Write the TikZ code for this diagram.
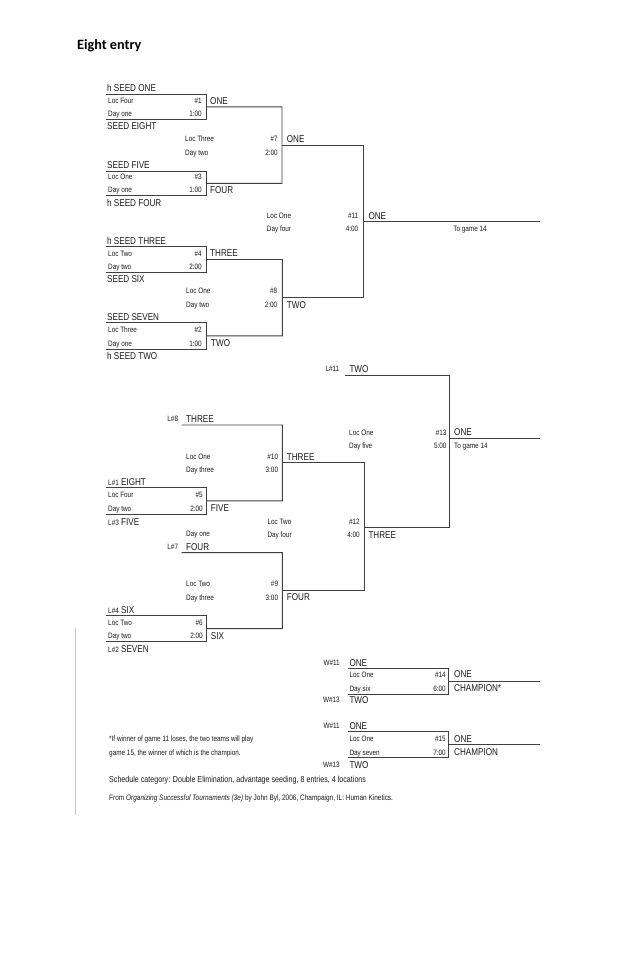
\documentclass[tikz,border=0pt]{standalone}
\usepackage{fontspec}
\setmainfont{Liberation Sans}
\newfontfamily\narrowf[FakeStretch=0.82]{Liberation Sans}
\newfontfamily\titlef{Carlito}
\usetikzlibrary{calc}
\definecolor{ink}{HTML}{1A1A1A}
\definecolor{rulec}{HTML}{404040}
\newcommand\fbig{\narrowf\fontsize{9.9}{10}\selectfont}
\newcommand\fsmall{\narrowf\fontsize{7.8}{8}\selectfont}
\newcommand\fnote{\narrowf\fontsize{7.8}{8}\selectfont}
\newcommand\fcat{\narrowf\fontsize{8.7}{9}\selectfont}
\newcommand\ffrom{\narrowf\fontsize{7.9}{8}\selectfont}
\newcommand\ftitle{\titlef\bfseries\fontsize{14.2}{15}\selectfont}
\tikzset{
  big/.style={font=\fbig, text=ink, anchor=west, inner sep=0pt, text height=7.1pt, text depth=0pt},
  small/.style={font=\fsmall, text=ink, anchor=west, inner sep=0pt, text height=5.6pt, text depth=0pt},
  smallr/.style={small, anchor=east},
  smallc/.style={small, anchor=center},
  note/.style={font=\fnote, text=ink, anchor=west, inner sep=0pt, text height=5.6pt, text depth=0pt},
  bline/.style={draw=rulec, line width=0.95pt},
}
\newcommand\gamebox[5]{%
  \coordinate (#1tl) at (#2,#4);
  \coordinate (#1tr) at (#3,#4);
  \coordinate (#1bl) at (#2,#5);
  \coordinate (#1br) at (#3,#5);
  \coordinate (#1o) at ($(#1tr)!0.5!(#1br)$);
  \draw[bline] (#1tl) -- (#1tr) -- (#1br) -- (#1bl);
}
\begin{document}
\begin{tikzpicture}[x=1pt,y=-1pt]
\fill[white] (0,0) rectangle (638,976);
\useasboundingbox (0,0) rectangle (638,976);

\node[font=\ftitle, text=black, anchor=west, inner sep=0pt] (title) at (77,46) {Eight entry};

% ---------- first round boxes ----------
\gamebox{g1}{106}{206}{94.3}{119.3}
\gamebox{g3}{106}{206}{171}{195.7}
\gamebox{g4}{106}{206}{246.7}{272.3}
\gamebox{g2}{106}{206}{322.7}{349}
\gamebox{g5}{106}{206}{487.7}{514}
\gamebox{g6}{106}{206}{615.7}{641.7}
\gamebox{g14}{348.3}{448.3}{668.3}{694}
\gamebox{g15}{348.3}{448.3}{731.7}{757.3}

% ---------- winners bracket ----------
\coordinate (j7a) at (282,106.8);
\coordinate (j7b) at (282,183.35);
\coordinate (j7o) at (282,145.1);
\draw[bline] (g1o) -- (j7a) -- (j7b) -- (g3o);
\coordinate (j8a) at (282.3,259.5);
\coordinate (j8b) at (282.3,335.85);
\coordinate (j8o) at (282.3,297.7);
\draw[bline] (g4o) -- (j8a) -- (j8b) -- (g2o);
\coordinate (j11a) at (363.3,145.1);
\coordinate (j11b) at (363.3,297.7);
\coordinate (j11o) at (363.3,221.4);
\coordinate (end11) at (540,221.4);
\draw[bline] (j7o) -- (j11a) -- (j11b) -- (j8o);
\draw[bline] (j11o) -- (end11);

% ---------- losers bracket ----------
\coordinate (l8s) at (181.7,425);
\coordinate (j10a) at (282.3,425);
\coordinate (j10b) at (282.3,500.85);
\coordinate (j10o) at (282.3,462.9);
\draw[bline] (l8s) -- (j10a) -- (j10b) -- (g5o);
\coordinate (l7s) at (181.7,552.7);
\coordinate (j9a) at (282.3,552.7);
\coordinate (j9b) at (282.3,628.7);
\coordinate (j9o) at (282.3,590.7);
\draw[bline] (l7s) -- (j9a) -- (j9b) -- (g6o);
\coordinate (j12a) at (364,462.9);
\coordinate (j12b) at (364,590.7);
\coordinate (j12o) at (364,527.5);
\draw[bline] (j10o) -- (j12a) -- (j12b) -- (j9o);
\coordinate (l11s) at (345,375);
\coordinate (j13a) at (449.3,375);
\coordinate (j13b) at (449.3,527.5);
\coordinate (j13o) at (449.3,438.3);
\coordinate (end13) at (540,438.3);
\draw[bline] (l11s) -- (j13a) -- (j13b) -- (j12o);
\draw[bline] (j13o) -- (end13);

% ---------- finals ----------
\coordinate (end14) at (540,681.15);
\coordinate (end15) at (540,744.5);
\draw[bline] (g14o) -- (end14);
\draw[bline] (g15o) -- (end15);

% faint scan edge
\coordinate (edgeT) at (75,628);
\coordinate (edgeB) at (75,815);
\draw[black!22, line width=0.6pt] (edgeT) -- (edgeB);

% ---------- texts: game 1 ----------
\node[big] (s1) at (107,88) {h SEED ONE};
\node[small] (g1l) at (108,100.7) {Loc Four};
\node[smallr] (g1n) at (202,100.7) {\#1};
\node[small] (g1d) at (108,114) {Day one};
\node[smallr] (g1t) at (202,114) {1:00};
\node[big] (s8) at (107,126.3) {SEED EIGHT};
\node[big] (w1) at (210,100.7) {ONE};
% game 3
\node[big] (s5) at (107,165) {SEED FIVE};
\node[small] (g3l) at (108,177) {Loc One};
\node[smallr] (g3n) at (202,177) {\#3};
\node[small] (g3d) at (108,190) {Day one};
\node[smallr] (g3t) at (202,190) {1:00};
\node[big] (s4) at (107,203) {h SEED FOUR};
\node[big] (w3) at (210,190) {FOUR};
% game 7
\node[small] (g7l) at (185,139) {Loc Three};
\node[small] (g7d) at (185,152.7) {Day two};
\node[smallr] (g7n) at (278,139) {\#7};
\node[smallr] (g7t) at (278,152.7) {2:00};
\node[big] (w7) at (286.7,139) {ONE};
% game 4
\node[big] (s3) at (107,241) {h SEED THREE};
\node[small] (g4l) at (108,253.3) {Loc Two};
\node[smallr] (g4n) at (202,253.3) {\#4};
\node[small] (g4d) at (108,266.7) {Day two};
\node[smallr] (g4t) at (202,266.7) {2:00};
\node[big] (s6) at (107,279.3) {SEED SIX};
\node[big] (w4) at (210,253.3) {THREE};
% game 2
\node[big] (s7) at (107,316.7) {SEED SEVEN};
\node[small] (g2l) at (108,330) {Loc Three};
\node[smallr] (g2n) at (202,330) {\#2};
\node[small] (g2d) at (108,343.3) {Day one};
\node[smallr] (g2t) at (202,343.3) {1:00};
\node[big] (s2) at (107,355.7) {h SEED TWO};
\node[big] (w2) at (211,343.3) {TWO};
% game 8
\node[small] (g8l) at (186,291) {Loc One};
\node[small] (g8d) at (186,305) {Day two};
\node[smallr] (g8n) at (277.5,291) {\#8};
\node[smallr] (g8t) at (277.5,305) {2:00};
\node[big] (w8) at (286.7,305) {TWO};
% game 11
\node[small] (g11l) at (266.7,216) {Loc One};
\node[small] (g11d) at (266.7,228.3) {Day four};
\node[smallr] (g11n) at (358.5,216) {\#11};
\node[smallr] (g11t) at (358.5,228.3) {4:00};
\node[big] (w11) at (368.3,216) {ONE};
\node[smallc] (to11) at (470,228.3) {To game 14};

% ---------- texts: losers ----------
\node[smallr] (l11n) at (339.5,369) {L\#11};
\node[big] (l11w) at (349.3,369) {TWO};
\node[smallr] (l8n) at (178.3,419) {L\#8};
\node[big] (l8w) at (186,419) {THREE};
% game 10
\node[small] (g10l) at (186,456.7) {Loc One};
\node[small] (g10d) at (186,469.3) {Day three};
\node[smallr] (g10n) at (278.3,456.7) {\#10};
\node[smallr] (g10t) at (278.3,469.3) {3:00};
\node[big] (w10) at (286.7,456.7) {THREE};
% game 5
\node[big] (l1) at (108,482.3) {{\fsmall L\#1} EIGHT};
\node[small] (g5l) at (108,495) {Loc Four};
\node[smallr] (g5n) at (203,495) {\#5};
\node[small] (g5d) at (108,508.3) {Day two};
\node[smallr] (g5t) at (203,508.3) {2:00};
\node[big] (l3) at (108,521.7) {{\fsmall L\#3} FIVE};
\node[big] (w5) at (210.7,508.3) {FIVE};
% stray
\node[small] (stray) at (186,534) {Day one};
% L#7
\node[smallr] (l7n) at (178.3,546.7) {L\#7};
\node[big] (l7w) at (186,546.7) {FOUR};
% game 9
\node[small] (g9l) at (186,583.3) {Loc Two};
\node[small] (g9d) at (186,597.3) {Day three};
\node[smallr] (g9n) at (278.3,584) {\#9};
\node[smallr] (g9t) at (278.3,597.3) {3:00};
\node[big] (w9) at (286.7,596.7) {FOUR};
% game 6
\node[big] (l4) at (108,610) {{\fsmall L\#4} SIX};
\node[small] (g6l) at (108,622.7) {Loc Two};
\node[smallr] (g6n) at (203,622.7) {\#6};
\node[small] (g6d) at (108,636) {Day two};
\node[smallr] (g6t) at (203,636) {2:00};
\node[big] (l2) at (108,649) {{\fsmall L\#2} SEVEN};
\node[big] (w6) at (210.7,636) {SIX};
% game 12
\node[small] (g12l) at (267.3,521.7) {Loc Two};
\node[small] (g12d) at (267.3,535) {Day four};
\node[smallr] (g12n) at (360,521.7) {\#12};
\node[smallr] (g12t) at (360,535) {4:00};
\node[big] (w12) at (368.3,535) {THREE};
% game 13
\node[small] (g13l) at (349,432.3) {Loc One};
\node[small] (g13d) at (349,445.7) {Day five};
\node[smallr] (g13n) at (446.7,432.3) {\#13};
\node[smallr] (g13t) at (446.7,445.7) {5:00};
\node[big] (w13) at (454,432.3) {ONE};
\node[small] (to13) at (454,445.7) {To game 14};

% ---------- finals texts ----------
\node[smallr] (f14a) at (340,662.7) {W\#11};
\node[big] (f14b) at (349.3,662.7) {ONE};
\node[small] (g14l) at (349.3,674.3) {Loc One};
\node[smallr] (g14n) at (446,674.3) {\#14};
\node[small] (g14d) at (349.3,688.3) {Day six};
\node[smallr] (g14t) at (446,688.3) {6:00};
\node[smallr] (f14c) at (340,700) {W\#13};
\node[big] (f14d) at (349.3,700) {TWO};
\node[big] (w14a) at (454,674.3) {ONE};
\node[big] (w14b) at (454,688.3) {CHAMPION*};

\node[smallr] (f15a) at (340,725.7) {W\#11};
\node[big] (f15b) at (349.3,725.7) {ONE};
\node[small] (g15l) at (349.3,739) {Loc One};
\node[smallr] (g15n) at (446,739) {\#15};
\node[small] (g15d) at (349.3,752.3) {Day seven};
\node[smallr] (g15t) at (446,752.3) {7:00};
\node[smallr] (f15c) at (340,765) {W\#13};
\node[big] (f15d) at (349.3,765) {TWO};
\node[big] (w15a) at (454,739) {ONE};
\node[big] (w15b) at (454,752.3) {CHAMPION};

% ---------- notes ----------
\node[note] (n1) at (109,739) {*If winner of game 11 loses, the two teams will play};
\node[note] (n2) at (109,752.3) {game 15, the winner of which is the champion.};
\node[note, font=\fcat, text height=6.2pt] (n3) at (109,779) {Schedule category: Double Elimination, advantage seeding, 8 entries, 4 locations};
\node[note, font=\ffrom, text height=5.7pt] (n4) at (109,797.7) {From \textit{Organizing Successful Tournaments (3e)} by John Byl, 2006, Champaign, IL: Human Kinetics.};
\end{tikzpicture}
\end{document}
